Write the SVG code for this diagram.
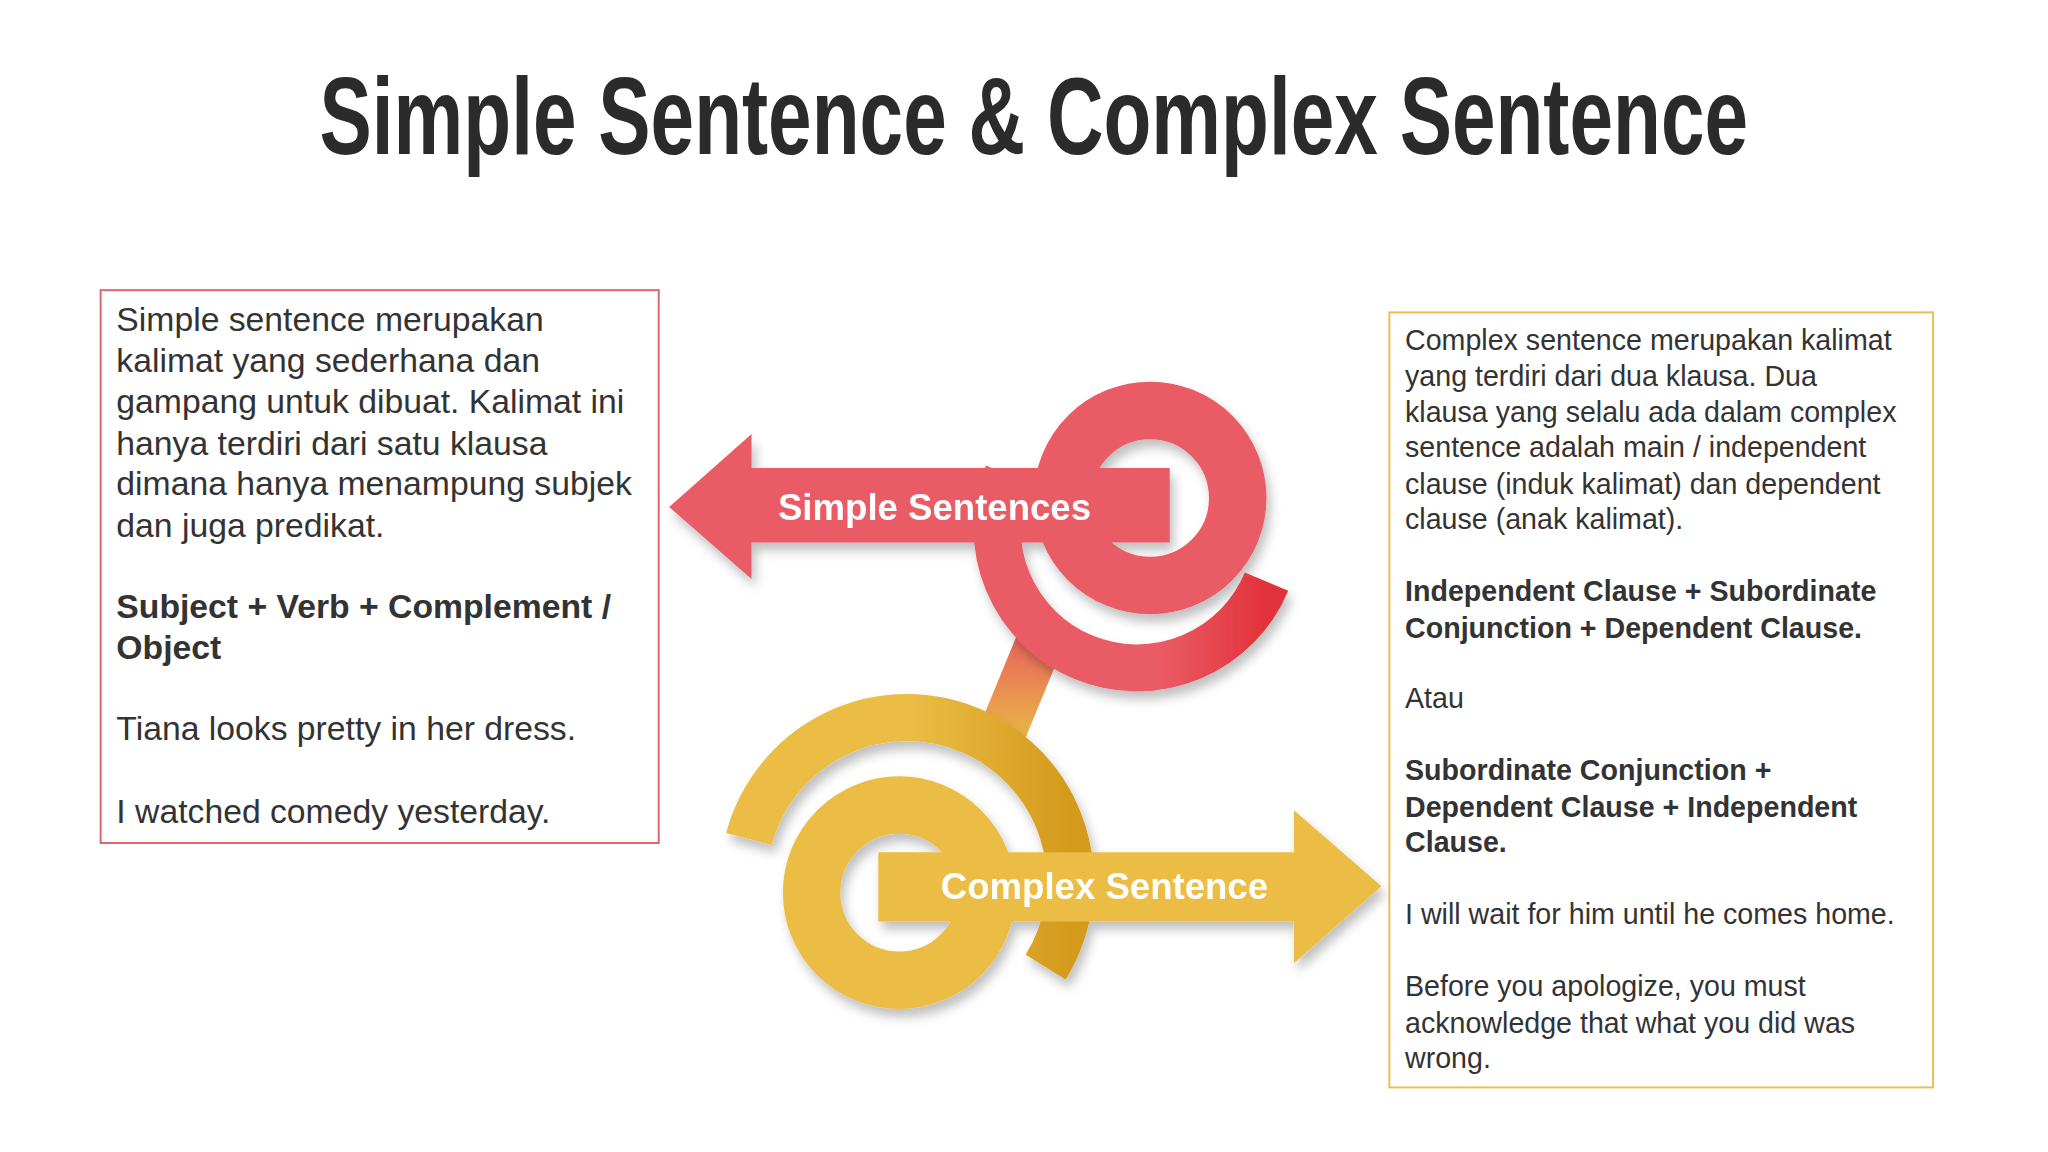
<svg xmlns="http://www.w3.org/2000/svg" width="2048" height="1152" viewBox="0 0 2048 1152">
<defs>
<style>
.t{font-family:"Liberation Sans",Arial,sans-serif;fill:#333}
.l{font-size:25.8px}
.r{font-size:21.9px}
.b{font-weight:bold}
.lab{font-family:"Liberation Sans",Arial,sans-serif;font-weight:bold;fill:#fff;text-anchor:middle}
</style>
<filter id="sh" x="-20%" y="-20%" width="140%" height="140%"><feDropShadow dx="3" dy="6" stdDeviation="4" flood-color="#000" flood-opacity="0.25"/></filter>
<linearGradient id="stem" x1="0" y1="0" x2="0" y2="1"><stop offset="0" stop-color="#e95a60"/><stop offset="1" stop-color="#eab845"/></linearGradient>
<linearGradient id="rarc" x1="0" y1="0" x2="1" y2="0"><stop offset="0.6" stop-color="#ea5c65"/><stop offset="1" stop-color="#e2323a"/></linearGradient>
<linearGradient id="yarc" x1="0" y1="0" x2="1" y2="0"><stop offset="0.5" stop-color="#ebbd45"/><stop offset="1" stop-color="#d49a1c"/></linearGradient>
</defs>
<rect width="2048" height="1152" fill="#fff"/>
<g transform="scale(1.307)">
<g id="title"><text x="791" y="118" text-anchor="middle" font-family="Liberation Sans,Arial,sans-serif" font-weight="bold" font-size="84" fill="#2b2b2b" textLength="1093" lengthAdjust="spacingAndGlyphs">Simple Sentence &amp; Complex Sentence</text></g>

<g id="simple-box">
<rect x="77" y="222" width="427" height="423" fill="none" stroke="#e06470" stroke-width="1.5"/>
<text class="t l" x="89" y="253">Simple sentence merupakan</text>
<text class="t l" x="89" y="285">kalimat yang sederhana dan</text>
<text class="t l" x="89" y="316">gampang untuk dibuat. Kalimat ini</text>
<text class="t l" x="89" y="348">hanya terdiri dari satu klausa</text>
<text class="t l" x="89" y="379">dimana hanya menampung subjek</text>
<text class="t l" x="89" y="411">dan juga predikat.</text>
<text class="t l b" x="89" y="473">Subject + Verb + Complement /</text>
<text class="t l b" x="89" y="504">Object</text>
<text class="t l" x="89" y="566">Tiana looks pretty in her dress.</text>
<text class="t l" x="89" y="630">I watched comedy yesterday.</text>
</g>

<g id="complex-box">
<rect x="1063" y="239" width="416" height="593" fill="none" stroke="#e8c050" stroke-width="1.5"/>
<text class="t r" x="1075" y="268">Complex sentence merupakan kalimat</text>
<text class="t r" x="1075" y="295">yang terdiri dari dua klausa. Dua</text>
<text class="t r" x="1075" y="323">klausa yang selalu ada dalam complex</text>
<text class="t r" x="1075" y="350">sentence adalah main / independent</text>
<text class="t r" x="1075" y="378">clause (induk kalimat) dan dependent</text>
<text class="t r" x="1075" y="405">clause (anak kalimat).</text>
<text class="t r b" x="1075" y="460">Independent Clause + Subordinate</text>
<text class="t r b" x="1075" y="488">Conjunction + Dependent Clause.</text>
<text class="t r" x="1075" y="542">Atau</text>
<text class="t r b" x="1075" y="597">Subordinate Conjunction +</text>
<text class="t r b" x="1075" y="625">Dependent Clause + Independent</text>
<text class="t r b" x="1075" y="652">Clause.</text>
<text class="t r" x="1075" y="707">I will wait for him until he comes home.</text>
<text class="t r" x="1075" y="762">Before you apologize, you must</text>
<text class="t r" x="1075" y="790">acknowledge that what you did was</text>
<text class="t r" x="1075" y="817">wrong.</text>
</g>

<g id="connectors">
<line x1="800" y1="480" x2="765" y2="565" stroke="url(#stem)" stroke-width="36"/>
</g>

<g id="simple-graphic" filter="url(#sh)">
<path d="M771 363 A107 107 0 0 0 969 445" fill="none" stroke="url(#rarc)" stroke-width="36"/>
<circle cx="880" cy="381" r="67" fill="none" stroke="#ea5c65" stroke-width="44"/>
<path d="M512 388 L575 332 L575 358 L895 358 L895 415 L575 415 L575 443 Z" fill="#ea5c65"/>
<text class="lab" x="715" y="398" font-size="28">Simple Sentences</text>
</g>

<g id="complex-graphic" filter="url(#sh)">
<path d="M573 642 A125 125 0 1 1 800 740" fill="none" stroke="url(#yarc)" stroke-width="36"/>
<circle cx="688" cy="683" r="67" fill="none" stroke="#ebbd45" stroke-width="44"/>
<path d="M1057 678 L990 620 L990 652 L672 652 L672 705 L990 705 L990 737 Z" fill="#ebbd45"/>
<text class="lab" x="845" y="688" font-size="28">Complex Sentence</text>
</g>
</g>
</svg>
